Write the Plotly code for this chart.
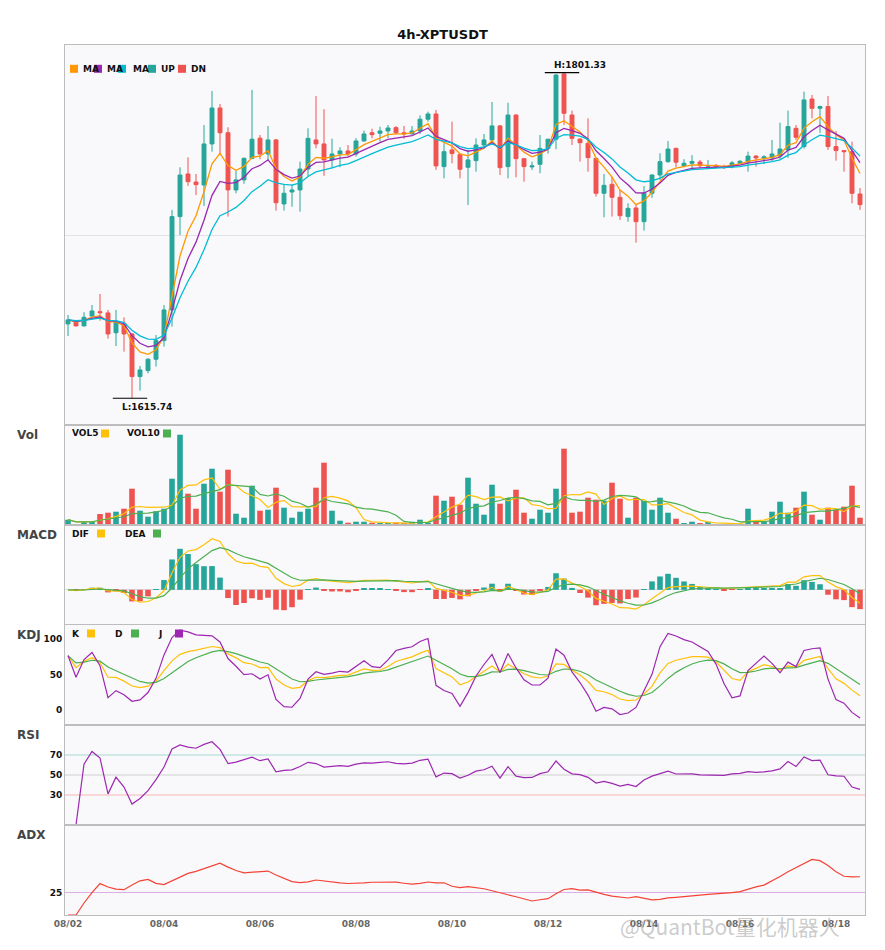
import numpy as np
import pandas as pd
import plotly.graph_objects as go
from plotly.subplots import make_subplots

# 4h candles, 08/02 00:00 onwards
opens = [1658.1, 1659.4, 1657.0, 1662.6, 1665.1, 1664.4, 1653.1, 1658.5, 1652.4, 1628.1,
         1631.5, 1638.0, 1648.6, 1666.1, 1719.3, 1743.6, 1739.0, 1737.3, 1760.7, 1781.2,
         1767.1, 1734.5, 1740.2, 1752.5, 1764.0, 1755.0, 1763.0, 1726.5, 1733.3, 1734.5,
         1746.4, 1763.0, 1760.7, 1751.6, 1755.0, 1756.7, 1755.0, 1762.4, 1767.1, 1766.8,
         1768.1, 1770.0, 1767.1, 1766.4, 1768.1, 1774.8, 1777.8, 1747.8, 1757.3, 1754.8,
         1747.4, 1751.2, 1760.1, 1763.0, 1771.0, 1747.8, 1777.2, 1752.3, 1747.6, 1749.1,
         1758.2, 1763.4, 1800.6, 1777.2, 1763.5, 1761.1, 1752.5, 1732.6, 1737.7, 1730.3,
         1719.3, 1724.2, 1716.4, 1732.6, 1743.0, 1750.6, 1758.2, 1748.3, 1749.7, 1750.4,
         1748.0, 1748.5, 1747.8, 1747.6, 1749.7, 1750.4, 1753.8, 1752.3, 1752.7, 1753.8,
         1757.3, 1769.6, 1759.2, 1786.3, 1781.0, 1782.0, 1759.2, 1756.9, 1756.3, 1732.2]
highs = [1663.2, 1660.0, 1664.8, 1668.9, 1675.2, 1666.1, 1666.1, 1661.9, 1652.6, 1634.2,
         1638.5, 1651.8, 1668.9, 1723.1, 1747.4, 1753.1, 1743.6, 1771.5, 1790.9, 1783.5,
         1770.2, 1745.5, 1753.0, 1791.5, 1765.8, 1770.9, 1763.5, 1737.9, 1737.7, 1750.6,
         1769.6, 1788.0, 1780.5, 1763.7, 1758.8, 1760.1, 1764.0, 1768.3, 1769.4, 1770.5,
         1771.5, 1770.9, 1771.0, 1770.9, 1777.0, 1779.1, 1780.1, 1761.1, 1773.4, 1754.8,
         1757.3, 1763.9, 1766.4, 1784.6, 1771.5, 1784.2, 1777.5, 1752.6, 1750.6, 1765.8,
         1763.6, 1800.5, 1801.33, 1779.7, 1763.8, 1775.3, 1752.8, 1743.6, 1742.1, 1734.5,
         1726.9, 1726.5, 1736.7, 1743.4, 1755.4, 1762.4, 1758.5, 1752.0, 1754.3, 1751.6,
         1751.6, 1749.2, 1748.9, 1751.0, 1751.6, 1756.3, 1754.4, 1754.3, 1763.0, 1772.8,
         1779.7, 1771.5, 1790.5, 1788.6, 1782.5, 1788.0, 1768.1, 1757.2, 1762.0, 1735.6]
lows = [1651.2, 1656.6, 1656.6, 1661.9, 1660.0, 1649.7, 1645.5, 1642.3, 1615.74, 1620.1,
        1630.0, 1633.8, 1645.2, 1656.6, 1708.8, 1736.8, 1731.6, 1725.3, 1756.3, 1754.4,
        1719.3, 1732.6, 1738.0, 1752.0, 1752.0, 1751.6, 1722.7, 1722.7, 1724.9, 1722.1,
        1742.1, 1758.2, 1742.5, 1746.8, 1747.4, 1753.5, 1753.5, 1762.0, 1763.9, 1762.0,
        1764.1, 1766.0, 1763.7, 1766.4, 1766.4, 1773.4, 1745.9, 1741.1, 1749.7, 1741.1,
        1725.9, 1744.9, 1758.8, 1760.1, 1743.0, 1741.1, 1741.7, 1739.2, 1745.9, 1744.0,
        1755.2, 1757.7, 1771.5, 1760.1, 1750.6, 1744.9, 1730.7, 1718.9, 1719.3, 1717.4,
        1716.4, 1704.4, 1711.3, 1730.0, 1740.2, 1750.0, 1747.4, 1747.4, 1746.6, 1746.8,
        1746.8, 1746.9, 1746.4, 1746.8, 1749.4, 1744.9, 1747.8, 1749.2, 1751.0, 1752.0,
        1752.7, 1763.0, 1758.0, 1775.3, 1767.0, 1757.3, 1751.2, 1744.9, 1726.9, 1723.1]
closes = [1660.4, 1657.0, 1661.9, 1665.5, 1664.5, 1652.4, 1659.1, 1652.4, 1628.1, 1631.9,
          1638.0, 1648.6, 1666.1, 1719.3, 1743.0, 1739.2, 1737.5, 1760.7, 1781.2, 1767.1,
          1734.5, 1740.2, 1752.5, 1763.4, 1755.0, 1763.0, 1727.2, 1732.6, 1734.5, 1746.4,
          1763.9, 1760.7, 1751.6, 1755.0, 1756.7, 1755.0, 1762.4, 1766.4, 1766.0, 1768.1,
          1769.8, 1767.1, 1766.4, 1768.1, 1774.8, 1777.8, 1748.2, 1756.3, 1755.2, 1746.3,
          1751.6, 1760.1, 1763.0, 1771.0, 1747.2, 1777.2, 1752.3, 1747.8, 1748.2, 1758.2,
          1763.4, 1800.0, 1778.2, 1763.9, 1761.4, 1752.9, 1732.6, 1737.1, 1730.3, 1719.8,
          1724.0, 1716.4, 1732.6, 1743.0, 1750.6, 1757.8, 1750.3, 1749.7, 1750.7, 1748.3,
          1748.4, 1747.8, 1747.2, 1749.9, 1750.8, 1753.8, 1752.7, 1753.4, 1755.0, 1757.8,
          1770.6, 1764.5, 1785.8, 1781.0, 1782.0, 1759.2, 1756.9, 1756.3, 1732.6, 1726.1]
volumes = [5.3, 1.0, 3.3, 3.3, 11.0, 12.3, 13.3, 16.3, 36.3, 14.3,
           8.3, 13.7, 16.3, 46.3, 90.3, 31.3, 16.3, 41.3, 56.3, 33.3,
           55.3, 11.3, 7.3, 39.3, 14.3, 15.3, 37.3, 17.3, 7.3, 13.3,
           16.3, 37.3, 62.3, 14.3, 4.3, 2.3, 3.3, 3.3, 2.3, 1.3,
           1.3, 2.3, 1.3, 3.3, 5.3, 2.3, 29.3, 24.3, 28.3, 20.3,
           47.3, 21.3, 10.3, 40.3, 21.3, 27.0, 35.3, 12.3, 6.3, 15.3,
           12.3, 36.3, 76.3, 12.3, 13.3, 27.3, 25.3, 24.3, 42.3, 26.3,
           7.3, 27.3, 24.3, 15.3, 27.3, 12.3, 6.3, 1.3, 3.3, 1.3,
           3.3, 0.7, 0.7, 0.7, 0.7, 16.3, 3.3, 3.3, 13.3, 23.3,
           12.3, 17.3, 33.3, 10.3, 5.3, 17.3, 15.3, 18.3, 39.3, 7.3]

times = pd.date_range("2024-08-02 00:00", periods=len(closes), freq="4h")
date_labels = [t.strftime("%m/%d") for t in times[::12]]
idx = np.arange(len(closes))

UP = "#26A69A"
DN = "#EF5350"
ORANGE = "#FF9800"
PURPLE = "#9C27B0"
CYAN = "#00BCD4"
YELLOW = "#FFC107"
GREEN = "#4CAF50"

o = pd.Series(opens)
h = pd.Series(highs)
l = pd.Series(lows)
c = pd.Series(closes)
v = pd.Series(volumes)

# moving averages on close (5 / 8 / 13)
ma5 = c.ewm(span=5, adjust=False).mean()
ma8 = c.ewm(span=8, adjust=False).mean()
ma13 = c.ewm(span=13, adjust=False).mean()

vol5 = v.rolling(5, min_periods=1).mean()
vol10 = v.rolling(10, min_periods=1).mean()

# MACD (5, 13, 5)
dif = ma5 - ma13
dea = dif.ewm(span=5, adjust=False).mean()
hist = 2 * (dif - dea)

# KDJ
low9 = l.rolling(9, min_periods=1).min()
high9 = h.rolling(9, min_periods=1).max()
rsv = (c - low9) / (high9 - low9) * 100
k = rsv.ewm(com=2).mean()
d = k.ewm(com=2).mean()
j = 3 * k - 2 * d

# RSI
delta = c.diff()
gain = delta.clip(lower=0)
loss = -delta.clip(upper=0)
rsi = 100 * gain.ewm(com=13).mean() / (gain.ewm(com=13).mean() + loss.ewm(com=13).mean())

# ADX
pc = c.shift()
tr = pd.concat([h - l, (h - pc).abs(), (l - pc).abs()], axis=1).max(axis=1)
up_move = h.diff()
dn_move = -l.diff()
pdm = pd.Series(np.where((up_move > dn_move) & (up_move > 0), up_move, 0.0))
mdm = pd.Series(np.where((dn_move > up_move) & (dn_move > 0), dn_move, 0.0))
atr = tr.ewm(span=14, adjust=False).mean()
pdi = 100 * pdm.ewm(span=14, adjust=False).mean() / atr
mdi = 100 * mdm.ewm(span=14, adjust=False).mean() / atr
dx = (100 * (pdi - mdi).abs() / (pdi + mdi)).fillna(0)
adx = dx.ewm(span=14, adjust=False).mean()

bar_colors = [UP if cc >= oo else DN for oo, cc in zip(opens, closes)]
hist_colors = [UP if x >= 0 else DN for x in hist]

fig = make_subplots(rows=6, cols=1, shared_xaxes=True, vertical_spacing=0,
                    row_heights=[380, 100, 100, 100, 100, 90])

fig.add_trace(go.Candlestick(x=idx, open=opens, high=highs, low=lows, close=closes,
                             increasing=dict(line=dict(color=UP, width=1), fillcolor=UP),
                             decreasing=dict(line=dict(color=DN, width=1), fillcolor=DN),
                             whiskerwidth=0, name="K"), row=1, col=1)
for ser, col, nm in [(ma5, ORANGE, "MA5"), (ma8, PURPLE, "MA8"), (ma13, CYAN, "MA13")]:
    fig.add_trace(go.Scatter(x=idx, y=ser, mode="lines", name=nm,
                             line=dict(color=col, width=1.3)), row=1, col=1)

fig.add_trace(go.Bar(x=idx, y=volumes, marker=dict(color=bar_colors, line_width=0), name="Vol"),
              row=2, col=1)
fig.add_trace(go.Scatter(x=idx, y=vol5, mode="lines", line=dict(color=YELLOW, width=1.2), name="VOL5"),
              row=2, col=1)
fig.add_trace(go.Scatter(x=idx, y=vol10, mode="lines", line=dict(color=GREEN, width=1.2), name="VOL10"),
              row=2, col=1)

fig.add_trace(go.Bar(x=idx, y=hist, marker=dict(color=hist_colors, line_width=0), name="MACD"),
              row=3, col=1)
fig.add_trace(go.Scatter(x=idx, y=dif, mode="lines", line=dict(color=YELLOW, width=1.2), name="DIF"),
              row=3, col=1)
fig.add_trace(go.Scatter(x=idx, y=dea, mode="lines", line=dict(color=GREEN, width=1.2), name="DEA"),
              row=3, col=1)

fig.add_trace(go.Scatter(x=idx, y=k, mode="lines", line=dict(color=YELLOW, width=1.2), name="K"),
              row=4, col=1)
fig.add_trace(go.Scatter(x=idx, y=d, mode="lines", line=dict(color=GREEN, width=1.2), name="D"),
              row=4, col=1)
fig.add_trace(go.Scatter(x=idx, y=j, mode="lines", line=dict(color=PURPLE, width=1.2), name="J"),
              row=4, col=1)

fig.add_trace(go.Scatter(x=idx, y=rsi, mode="lines", line=dict(color=PURPLE, width=1.2), name="RSI"),
              row=5, col=1)
fig.add_trace(go.Scatter(x=idx, y=adx, mode="lines", line=dict(color="#F44336", width=1.2), name="ADX"),
              row=6, col=1)

# reference lines
TEAL_GRID = "#a3d9d1"
GRAY_GRID = "#cfcfcf"
PINK_GRID = "#f5b5b5"
for yv, col in [(100, TEAL_GRID), (50, GRAY_GRID), (0, PINK_GRID)]:
    fig.add_hline(y=yv, line=dict(color=col, width=1), layer="below", row=4, col=1)
for yv, col in [(70, TEAL_GRID), (50, GRAY_GRID), (30, PINK_GRID)]:
    fig.add_hline(y=yv, line=dict(color=col, width=1), layer="below", row=5, col=1)
fig.add_hline(y=25, line=dict(color="#dcaee3", width=1), layer="below", row=6, col=1)

# high / low markers
i_hi = int(h.idxmax())
i_lo = int(l.idxmin())
fig.add_shape(type="line", x0=i_hi - 2.4, x1=i_hi + 1.9, y0=h[i_hi], y1=h[i_hi],
              line=dict(color="black", width=1.2), row=1, col=1)
fig.add_shape(type="line", x0=i_lo - 2.4, x1=i_lo + 1.9, y0=l[i_lo], y1=l[i_lo],
              line=dict(color="black", width=1.2), row=1, col=1)

BOLD = dict(family="DejaVu Sans", size=9, color="#111", weight="bold")
annotations = [
    dict(x=i_hi - 1.5, y=h[i_hi], xref="x", yref="y", text=f"H:{h[i_hi]:.2f}", showarrow=False,
         xanchor="left", yanchor="bottom", yshift=1, font=BOLD),
    dict(x=i_lo - 1.5, y=l[i_lo], xref="x", yref="y", text=f"L:{l[i_lo]:.2f}", showarrow=False,
         xanchor="left", yanchor="top", yshift=-2, font=BOLD),
]

# the page adds an 8px body margin, so the figure is laid out 8px in from the window corner
PAGE = 8
FIG_W, FIG_H = 885 - 2 * PAGE, 950 - 2 * PAGE
PLOT_L, PLOT_R, PLOT_T, PLOT_B = 65, 865, 45, 915   # plot area in window pixels


def px_x(px):
    return (px - PLOT_L) / (PLOT_R - PLOT_L)


def px_y(py):
    return (PLOT_B - py) / (PLOT_B - PLOT_T)


# panel titles
for txt, py in [("Vol", 435), ("MACD", 535), ("KDJ", 635), ("RSI", 735), ("ADX", 835)]:
    annotations.append(dict(x=px_x(15), y=px_y(py), xref="paper", yref="paper", text=txt,
                            showarrow=False, xanchor="left", yanchor="middle",
                            font=dict(family="DejaVu Sans", size=12, color="#444", weight="bold")))

# in-panel legends: (text, text_x, square_x, color)
legend_rows = [
    (68.8, [("MA", 81, 70, ORANGE), ("MA", 105, 94, PURPLE), ("MA", 131, 118, CYAN),
            ("UP", 159, 148, UP), ("DN", 189, 178, DN)]),
    (433.5, [("VOL5", 70, 101, YELLOW), ("VOL10", 125, 163, GREEN)]),
    (533.5, [("DIF", 70, 97, YELLOW), ("DEA", 123, 153, GREEN)]),
    (633.5, [("K", 70, 87, YELLOW), ("D", 113, 131, GREEN), ("J", 156, 175, PURPLE)]),
]
for py, items in legend_rows:
    for txt, tx, sx, col in items:
        fig.add_shape(type="rect", xref="paper", yref="paper",
                      x0=px_x(sx), x1=px_x(sx + 8), y0=px_y(py + 4), y1=px_y(py - 4),
                      fillcolor=col, line=dict(width=0), layer="above")
        annotations.append(dict(x=px_x(tx), y=px_y(py), xref="paper", yref="paper", text=txt,
                                showarrow=False, xanchor="left", yanchor="middle", font=BOLD))

# watermark
annotations.append(dict(x=px_x(618), y=px_y(926), xref="paper", yref="paper",
                        text="@QuantBot量化机器人", showarrow=False, xanchor="left", yanchor="middle",
                        font=dict(family="Noto Sans CJK SC", size=21, color="rgba(160,160,160,0.55)")))

fig.update_xaxes(range=[-0.375, len(closes) - 0.375], showgrid=False, zeroline=False,
                 showline=True, mirror=True, linecolor="#bdbdbd", linewidth=1, ticks="")
fig.update_xaxes(tickvals=idx[::12], ticktext=date_labels,
                 tickfont=dict(family="DejaVu Sans", size=9, color="#666", weight="bold"),
                 row=6, col=1)
fig.update_yaxes(showline=True, mirror=True, linecolor="#bdbdbd", linewidth=1, zeroline=False,
                 showgrid=False, ticks="",
                 tickfont=dict(family="DejaVu Sans", size=9, color="#111", weight="bold"))

price_lo, price_hi = 1600.5, 1817.1
fig.update_yaxes(range=[price_lo, price_hi], tickvals=[(price_lo + price_hi) / 2],
                 showticklabels=False, showgrid=True, gridcolor="#e2e2e6", row=1, col=1)
fig.update_yaxes(range=[0, 100], showticklabels=False, row=2, col=1)
m = float(dif.max())
fig.update_yaxes(range=[-0.69 * m, 1.27 * m], showticklabels=False,
                 zeroline=True, zerolinecolor="#d6d6d6", zerolinewidth=1, row=3, col=1)
fig.update_yaxes(range=[-21, 119.7], tickvals=[0, 50, 100], row=4, col=1)
fig.update_yaxes(range=[0, 100], tickvals=[30, 50, 70], row=5, col=1)
fig.update_yaxes(range=[0, 100], tickvals=[25], row=6, col=1)

fig.update_layout(
    width=FIG_W, height=FIG_H,
    margin=dict(l=PLOT_L - PAGE, r=FIG_W - (PLOT_R - PAGE), t=PLOT_T - PAGE, b=FIG_H - (PLOT_B - PAGE)),
    title=dict(text="4h-XPTUSDT", x=0.5, xref="container", y=1 - (34 - PAGE) / FIG_H, yanchor="middle",
               font=dict(family="DejaVu Sans", size=13, color="#111", weight="bold")),
    paper_bgcolor="white",
    plot_bgcolor="#f9f9fb",
    showlegend=False,
    bargap=0.3,
    xaxis_rangeslider_visible=False,
    annotations=annotations,
)

fig.write_html("out.html")
